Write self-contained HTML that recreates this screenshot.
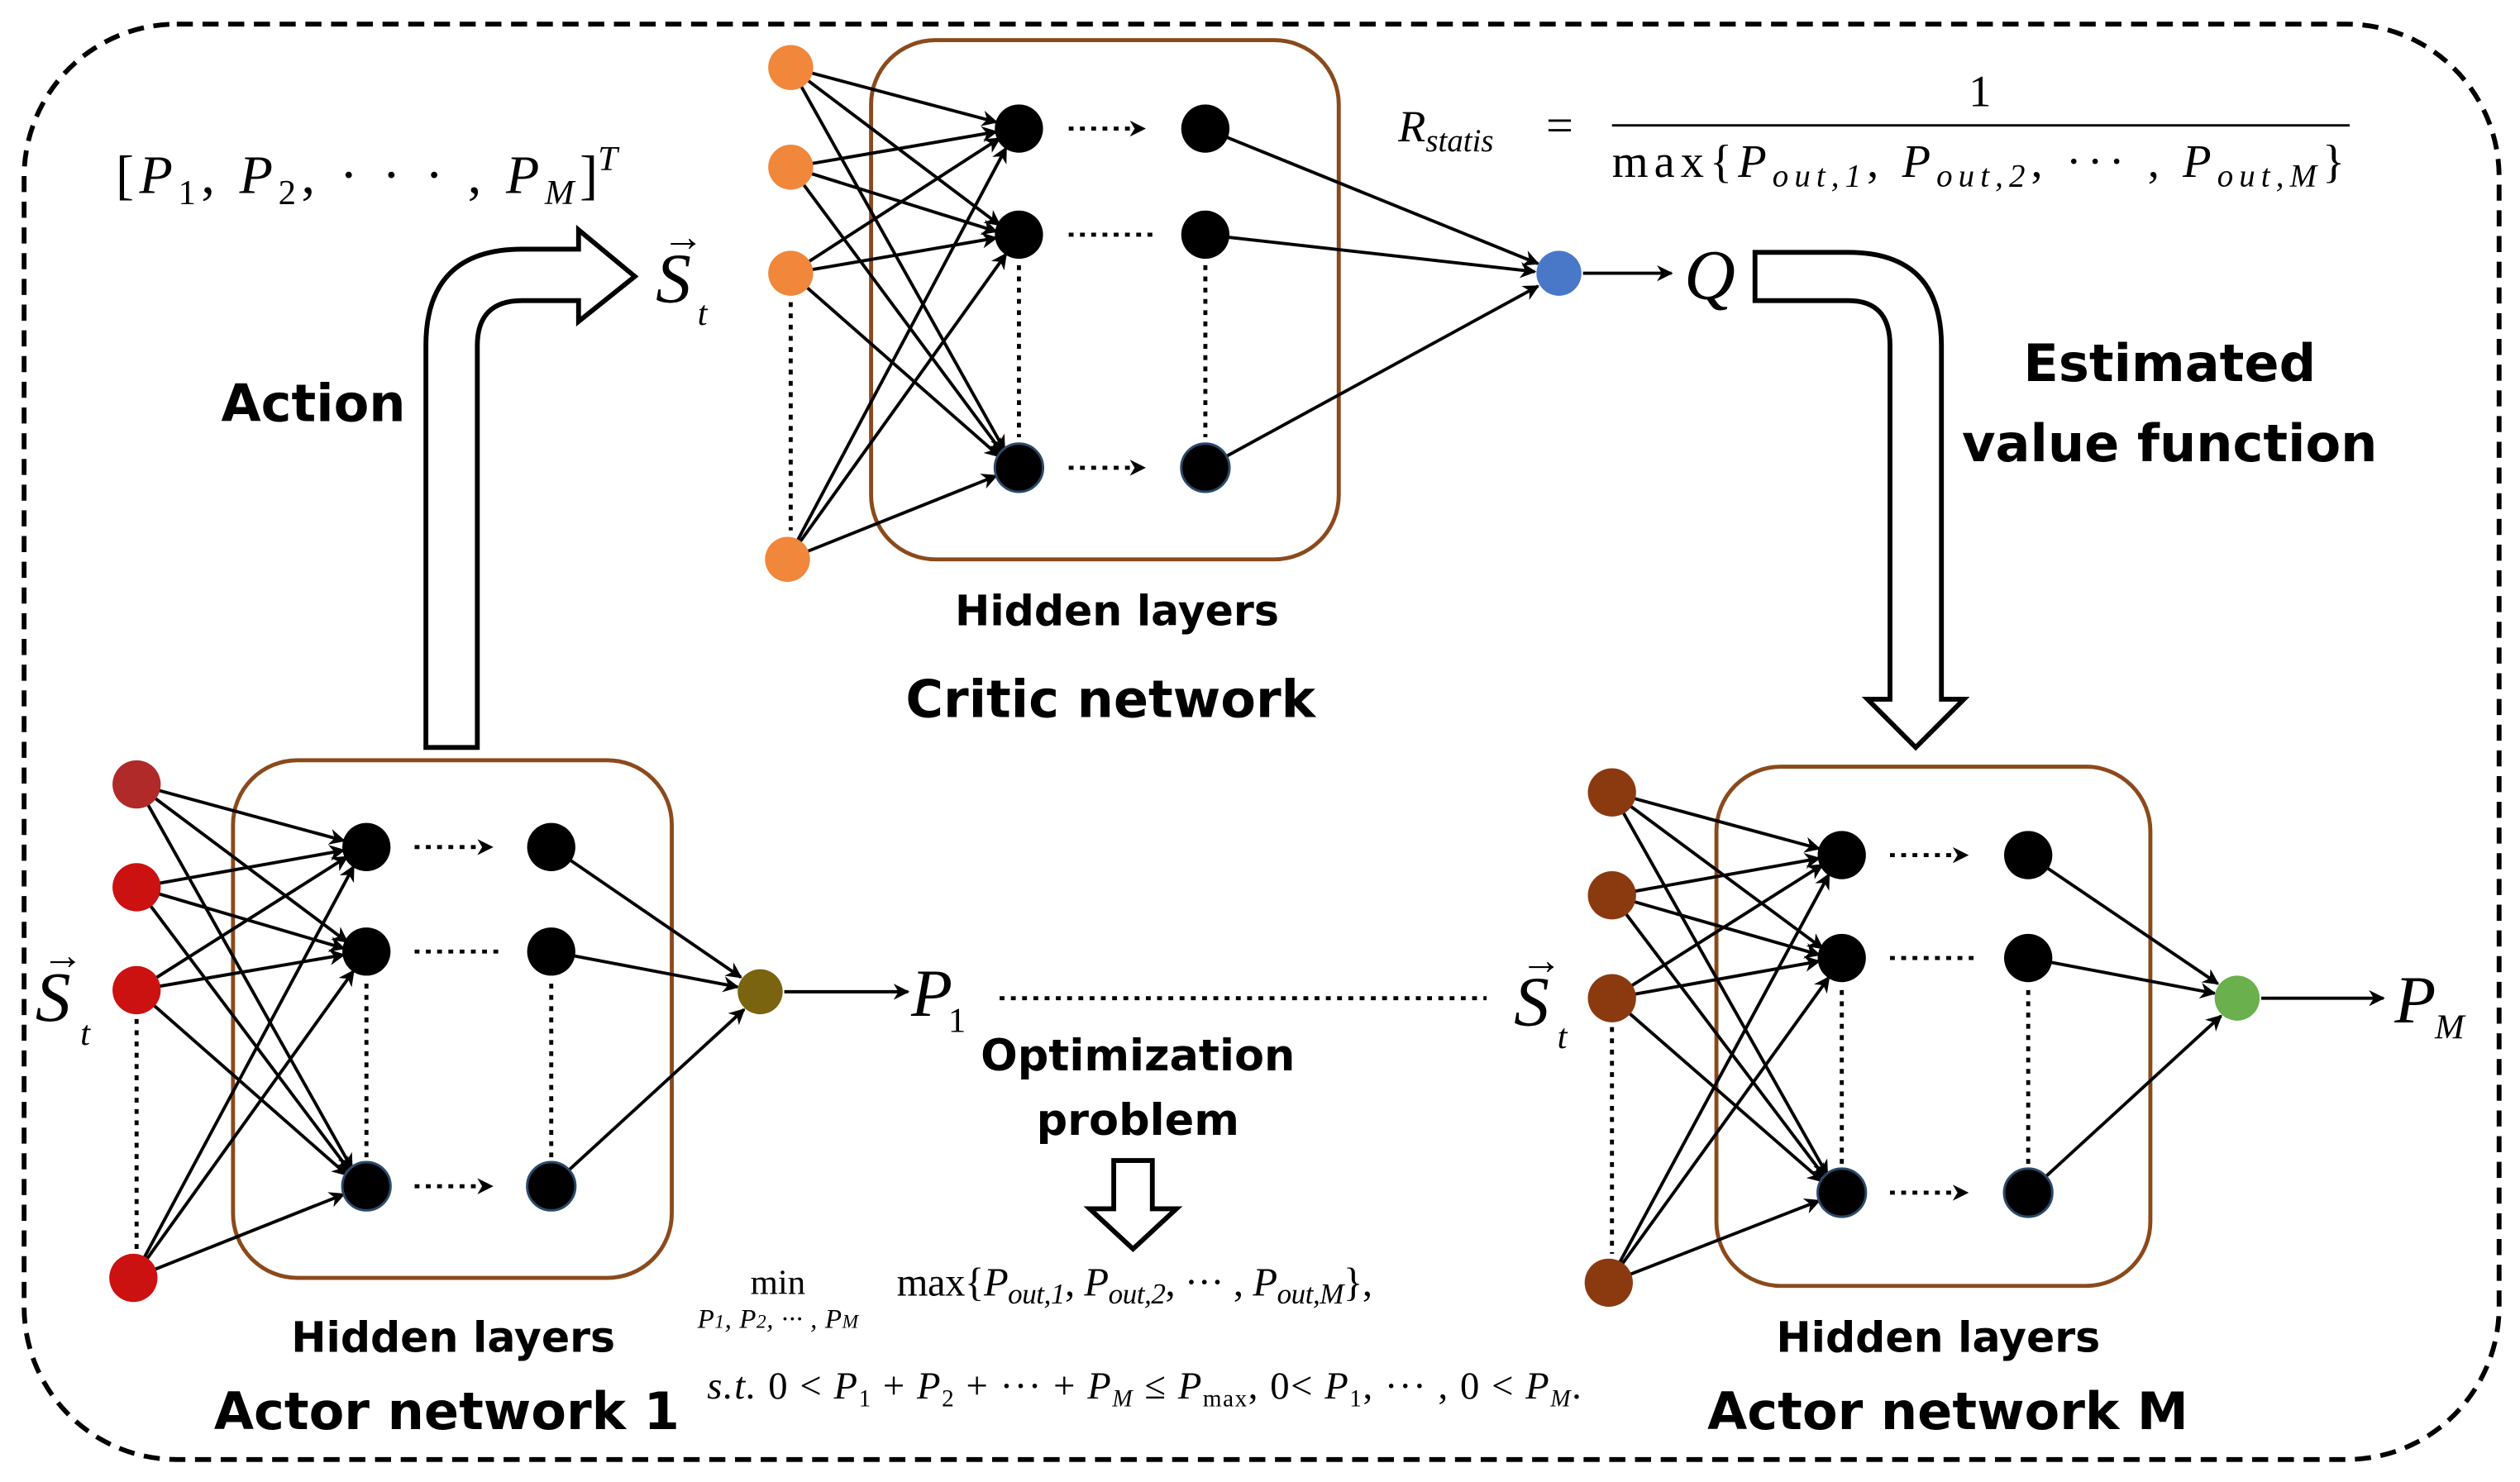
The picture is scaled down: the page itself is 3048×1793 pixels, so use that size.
<!DOCTYPE html>
<html><head><meta charset="utf-8"><style>
html,body{margin:0;padding:0;background:#fff;}
svg{display:block;}
.b{font-family:"DejaVu Sans","Liberation Sans",sans-serif;font-weight:bold;}
.m{font-family:"Liberation Serif",serif;font-style:italic;}
.r{font-family:"Liberation Serif",serif;}
</style></head><body>
<svg width="3048" height="1793" viewBox="0 0 1568 922" preserveAspectRatio="none" xmlns="http://www.w3.org/2000/svg">
<defs>
<marker id="a" markerWidth="10" markerHeight="10" refX="9" refY="5" orient="auto" markerUnits="userSpaceOnUse"><path d="M0,0 L10,5 L0,10 L3,5 z" fill="#000"/></marker>
</defs>
<rect x="15" y="15" width="1540" height="893" rx="95" fill="none" stroke="#000" stroke-width="3" stroke-dasharray="10,6"/>

<!-- CRITIC -->
<rect x="542" y="25" width="291" height="323" rx="40" fill="none" stroke="#8b4a1c" stroke-width="2.5"/>
<g stroke="#000" stroke-width="2" marker-end="url(#a)">
<line x1="492" y1="42" x2="620" y2="76"/><line x1="492" y1="42" x2="622" y2="140"/><line x1="492" y1="42" x2="625" y2="280"/>
<line x1="492" y1="104" x2="620" y2="82"/><line x1="492" y1="104" x2="620" y2="144"/><line x1="492" y1="104" x2="624" y2="282"/>
<line x1="492" y1="170" x2="622" y2="86"/><line x1="492" y1="170" x2="620" y2="148"/><line x1="492" y1="170" x2="622" y2="284"/>
<line x1="490" y1="348" x2="626" y2="92"/><line x1="490" y1="348" x2="626" y2="158"/><line x1="490" y1="348" x2="620" y2="296"/>
<line x1="750" y1="80" x2="957" y2="164"/><line x1="750" y1="146" x2="955" y2="169"/><line x1="750" y1="291" x2="957" y2="178"/>
<line x1="985" y1="170" x2="1040" y2="170"/>
</g>
<g stroke="#000" stroke-width="2.5" stroke-dasharray="3,4" fill="none">
<line x1="665" y1="80" x2="712" y2="80" marker-end="url(#a)"/>
<line x1="665" y1="146" x2="718" y2="146"/>
<line x1="665" y1="291" x2="712" y2="291" marker-end="url(#a)"/>
<line x1="634" y1="165" x2="634" y2="272"/><line x1="750" y1="165" x2="750" y2="272"/>
<line x1="492" y1="188" x2="492" y2="330"/>
</g>
<g fill="#f0873a"><circle cx="492" cy="42" r="14"/><circle cx="492" cy="104" r="14"/><circle cx="492" cy="170" r="14"/><circle cx="490" cy="348" r="14"/></g>
<g fill="#000"><circle cx="634" cy="80" r="15"/><circle cx="634" cy="146" r="15"/><circle cx="634" cy="291" r="15" stroke="#2a4a6a" stroke-width="1.5"/>
<circle cx="750" cy="80" r="15"/><circle cx="750" cy="146" r="15"/><circle cx="750" cy="291" r="15" stroke="#2a4a6a" stroke-width="1.5"/></g>
<circle cx="970" cy="170" r="14" fill="#4a78c8"/>
<text x="1048" y="186" class="m" font-size="44">Q</text>
<text x="695" y="389" class="b" font-size="26" text-anchor="middle">Hidden layers</text>
<text x="691" y="446" class="b" font-size="32" text-anchor="middle">Critic network</text>

<!-- formula -->
<text x="870" y="88" class="m" font-size="28">R<tspan font-size="20" dy="6">statis</tspan></text>
<text x="962" y="88" class="r" font-size="30">=</text>
<line x1="1003" y1="78" x2="1462" y2="78" stroke="#000" stroke-width="1.5"/>
<text x="1232" y="66" class="r" font-size="28" text-anchor="middle">1</text>
<text x="1003" y="110" class="r" font-size="29" textLength="456" lengthAdjust="spacing">max{<tspan class="m">P</tspan><tspan class="m" font-size="20" dy="6">out,1</tspan><tspan dy="-6">,  </tspan><tspan class="m">P</tspan><tspan class="m" font-size="20" dy="6">out,2</tspan><tspan dy="-6">,  ··· ,  </tspan><tspan class="m">P</tspan><tspan class="m" font-size="20" dy="6">out,M</tspan><tspan dy="-6">}</tspan></text>
<text x="72" y="120" class="r" font-size="34" textLength="300" lengthAdjust="spacing">[<tspan class="m">P</tspan><tspan font-size="22" dy="7">1</tspan><tspan dy="-7">,  </tspan><tspan class="m">P</tspan><tspan font-size="22" dy="7">2</tspan><tspan dy="-7">, · · · ,  </tspan><tspan class="m">P</tspan><tspan class="m" font-size="22" dy="7">M</tspan><tspan dy="-7">]</tspan></text>
<text x="372" y="106" class="m" font-size="22">T</text>

<!-- Action arrow -->
<path d="M265,465 L265,215 Q265,155 325,155 L360,155 L360,143 L395,172 L360,200 L360,187 L325,187 Q297,187 297,215 L297,465 Z" fill="#fff" stroke="#000" stroke-width="3"/>
<text x="195" y="262" class="b" font-size="32" text-anchor="middle">Action</text>
<text x="408" y="188" class="m" font-size="44">S</text><text x="412" y="156" class="r" font-size="26">→</text><text x="434" y="202" class="m" font-size="22">t</text>

<!-- Estimated value arrow -->
<path d="M1092,157 L1150,157 Q1208,157 1208,215 L1208,435 L1222,435 L1192,465 L1162,435 L1176,435 L1176,215 Q1176,187 1150,187 L1092,187 Z" fill="#fff" stroke="#000" stroke-width="3"/>
<text x="1350" y="237" class="b" font-size="32" text-anchor="middle">Estimated</text>
<text x="1350" y="287" class="b" font-size="32" text-anchor="middle">value function</text>

<!-- ACTOR 1 -->
<rect x="145" y="473" width="273" height="322" rx="40" fill="none" stroke="#8b4a1c" stroke-width="2.5"/>
<g stroke="#000" stroke-width="2" marker-end="url(#a)">
<line x1="85" y1="488" x2="214" y2="523"/><line x1="85" y1="488" x2="216" y2="586"/><line x1="85" y1="488" x2="219" y2="727"/>
<line x1="85" y1="552" x2="214" y2="529"/><line x1="85" y1="552" x2="214" y2="590"/><line x1="85" y1="552" x2="218" y2="729"/>
<line x1="85" y1="616" x2="216" y2="533"/><line x1="85" y1="616" x2="214" y2="594"/><line x1="85" y1="616" x2="216" y2="731"/>
<line x1="83" y1="795" x2="220" y2="539"/><line x1="83" y1="795" x2="220" y2="604"/><line x1="83" y1="795" x2="214" y2="743"/>
<line x1="343" y1="527" x2="461" y2="608"/><line x1="343" y1="592" x2="459" y2="614"/><line x1="343" y1="738" x2="463" y2="628"/>
<line x1="488" y1="617" x2="565" y2="617"/>
</g>
<g stroke="#000" stroke-width="2.5" stroke-dasharray="3,4" fill="none">
<line x1="258" y1="527" x2="306" y2="527" marker-end="url(#a)"/>
<line x1="258" y1="592" x2="312" y2="592"/>
<line x1="258" y1="738" x2="306" y2="738" marker-end="url(#a)"/>
<line x1="228" y1="612" x2="228" y2="720"/><line x1="343" y1="612" x2="343" y2="720"/>
<line x1="85" y1="634" x2="85" y2="777"/>
</g>
<g fill="#cc1111"><circle cx="85" cy="488" r="15" fill="#b02a2a"/><circle cx="85" cy="552" r="15"/><circle cx="85" cy="616" r="15"/><circle cx="83" cy="795" r="15"/></g>
<g fill="#000"><circle cx="228" cy="527" r="15"/><circle cx="228" cy="592" r="15"/><circle cx="228" cy="738" r="15" stroke="#2a4a6a" stroke-width="1.5"/>
<circle cx="343" cy="527" r="15"/><circle cx="343" cy="592" r="15"/><circle cx="343" cy="738" r="15" stroke="#2a4a6a" stroke-width="1.5"/></g>
<circle cx="473" cy="617" r="14" fill="#7a6410"/>
<text x="22" y="635" class="m" font-size="44">S</text><text x="26" y="603" class="r" font-size="26">→</text><text x="50" y="650" class="m" font-size="22">t</text>
<text x="567" y="632" class="m" font-size="42">P</text><text x="590" y="642" class="r" font-size="22">1</text>
<text x="282" y="841" class="b" font-size="26" text-anchor="middle">Hidden layers</text>
<text x="278" y="889" class="b" font-size="32" text-anchor="middle">Actor network 1</text>

<!-- middle -->
<line x1="622" y1="621" x2="925" y2="621" stroke="#000" stroke-width="2.5" stroke-dasharray="3,4"/>
<text x="708" y="666" class="b" font-size="27" text-anchor="middle">Optimization</text>
<text x="708" y="706" class="b" font-size="27" text-anchor="middle">problem</text>
<path d="M693,722 L717,722 L717,752 L732,752 L705,777 L678,752 L693,752 Z" fill="#fff" stroke="#000" stroke-width="3"/>
<text x="484" y="805" class="r" font-size="22" text-anchor="middle">min</text>
<text x="434" y="826" class="m" font-size="17" textLength="100" lengthAdjust="spacing">P<tspan font-size="12">1</tspan>, P<tspan font-size="12">2</tspan>, ··· , P<tspan font-size="12">M</tspan></text>
<text x="558" y="806" class="r" font-size="25" textLength="296" lengthAdjust="spacing">max{<tspan class="m">P</tspan><tspan class="m" font-size="18" dy="5">out,1</tspan><tspan dy="-5">,  </tspan><tspan class="m">P</tspan><tspan class="m" font-size="18" dy="5">out,2</tspan><tspan dy="-5">,  ··· ,  </tspan><tspan class="m">P</tspan><tspan class="m" font-size="18" dy="5">out,M</tspan><tspan dy="-5">},</tspan></text>
<text x="440" y="870" class="r" font-size="24" textLength="544" lengthAdjust="spacing"><tspan class="m">s.t.</tspan>   0 &lt; <tspan class="m">P</tspan><tspan font-size="15" dy="5">1</tspan><tspan dy="-5"> + </tspan><tspan class="m">P</tspan><tspan font-size="15" dy="5">2</tspan><tspan dy="-5"> + ··· + </tspan><tspan class="m">P</tspan><tspan class="m" font-size="15" dy="5">M</tspan><tspan dy="-5"> ≤ </tspan><tspan class="m">P</tspan><tspan font-size="15" dy="5">max</tspan><tspan dy="-5">, 0&lt; </tspan><tspan class="m">P</tspan><tspan font-size="15" dy="5">1</tspan><tspan dy="-5">, ··· , 0 &lt; </tspan><tspan class="m">P</tspan><tspan class="m" font-size="15" dy="5">M</tspan><tspan dy="-5">.</tspan></text>

<!-- ACTOR M -->
<rect x="1068" y="477" width="270" height="323" rx="40" fill="none" stroke="#8b4a1c" stroke-width="2.5"/>
<g stroke="#000" stroke-width="2" marker-end="url(#a)">
<line x1="1003" y1="493" x2="1132" y2="528"/><line x1="1003" y1="493" x2="1134" y2="590"/><line x1="1003" y1="493" x2="1137" y2="731"/>
<line x1="1003" y1="557" x2="1132" y2="534"/><line x1="1003" y1="557" x2="1132" y2="594"/><line x1="1003" y1="557" x2="1136" y2="733"/>
<line x1="1003" y1="621" x2="1134" y2="538"/><line x1="1003" y1="621" x2="1132" y2="598"/><line x1="1003" y1="621" x2="1134" y2="735"/>
<line x1="1001" y1="798" x2="1138" y2="544"/><line x1="1001" y1="798" x2="1138" y2="608"/><line x1="1001" y1="798" x2="1132" y2="747"/>
<line x1="1262" y1="532" x2="1380" y2="612"/><line x1="1262" y1="596" x2="1378" y2="618"/><line x1="1262" y1="742" x2="1382" y2="632"/>
<line x1="1407" y1="621" x2="1483" y2="621"/>
</g>
<g stroke="#000" stroke-width="2.5" stroke-dasharray="3,4" fill="none">
<line x1="1176" y1="532" x2="1224" y2="532" marker-end="url(#a)"/>
<line x1="1176" y1="596" x2="1230" y2="596"/>
<line x1="1176" y1="742" x2="1224" y2="742" marker-end="url(#a)"/>
<line x1="1146" y1="616" x2="1146" y2="724"/><line x1="1262" y1="616" x2="1262" y2="724"/>
<line x1="1003" y1="639" x2="1003" y2="780"/>
</g>
<g fill="#8b3a10"><circle cx="1003" cy="493" r="15"/><circle cx="1003" cy="557" r="15"/><circle cx="1003" cy="621" r="15"/><circle cx="1001" cy="798" r="15"/></g>
<g fill="#000"><circle cx="1146" cy="532" r="15"/><circle cx="1146" cy="596" r="15"/><circle cx="1146" cy="742" r="15" stroke="#2a4a6a" stroke-width="1.5"/>
<circle cx="1262" cy="532" r="15"/><circle cx="1262" cy="596" r="15"/><circle cx="1262" cy="742" r="15" stroke="#2a4a6a" stroke-width="1.5"/></g>
<circle cx="1392" cy="621" r="14" fill="#6ab04c"/>
<text x="942" y="638" class="m" font-size="44">S</text><text x="946" y="606" class="r" font-size="26">→</text><text x="969" y="652" class="m" font-size="22">t</text>
<text x="1490" y="636" class="m" font-size="42">P</text><text x="1515" y="646" class="m" font-size="22">M</text>
<text x="1206" y="841" class="b" font-size="26" text-anchor="middle">Hidden layers</text>
<text x="1212" y="889" class="b" font-size="32" text-anchor="middle">Actor network M</text>
</svg>
</body></html>
